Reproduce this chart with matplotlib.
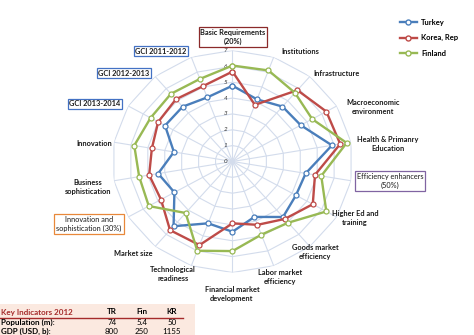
import numpy as np
import matplotlib
matplotlib.use('Agg')
from matplotlib import pyplot as plt
from matplotlib.patches import Rectangle
from matplotlib.lines import Line2D

plt.rcParams['font.family'] = ['Lato', 'DejaVu Sans']

# pillars, clockwise from the top
categories = ['Basic Requirements\n(20%)', 'Institutions', 'Infrastructure',
              'Macroeconomic\nenvironment', 'Health & Primanry\nEducation',
              'Efficiency enhancers\n(50%)', 'Higher Ed and\ntraining',
              'Goods market\nefficiency', 'Labor market\nefficiency',
              'Financial market\ndevelopment', 'Technological\nreadiness',
              'Market size', 'Innovation and\nsophistication (30%)',
              'Business\nsophistication', 'Innovation', 'GCI 2013-2014',
              'GCI 2012-2013', 'GCI 2011-2012']
turkey = [4.78, 4.17, 4.52, 4.58, 5.87, 4.32, 4.26, 4.57, 3.72,
          4.43, 4.15, 5.33, 3.90, 4.39, 3.46, 4.53, 4.51, 4.30]
korea = [5.67, 3.80, 5.87, 6.30, 6.36, 4.87, 5.39, 4.73, 4.25,
         3.90, 5.61, 5.65, 4.80, 4.92, 4.76, 4.99, 5.12, 5.05]
finland = [6.05, 6.11, 5.65, 5.35, 6.74, 5.24, 6.30, 5.04, 4.91,
           5.65, 5.99, 4.24, 5.62, 5.51, 5.80, 5.50, 5.57, 5.54]
series_names = ['Turkey', 'Korea, Rep', 'Finland']
ticks = [0, 1, 2, 3, 4, 5, 6, 7]

# key indicators table
table_cols = ['TR', 'Fin', 'KR']
table_rows = ['Population (m):', 'GDP (USD, b):']
table_vals = [['74', '5.4', '50'], ['800', '250', '1155']]

colors = ['#4A7EBB', '#BE4B48', '#98B954']
grid_color = '#D3DCEC'
W, H = 474, 335

# label centres in pixels and box colours
label_pos = [(233, 37), (300, 52), (337, 73), (373, 107), (388, 144),
             (390, 181), (355, 218), (315, 252), (280, 277), (232, 294),
             (173, 274), (133, 254), (89, 224), (88, 187), (94, 143),
             (95, 104), (124, 73), (161, 51)]
box_colors = {0: '#8B2A2A', 5: '#8064A2', 12: '#E8883A',
              15: '#4472C4', 16: '#4472C4', 17: '#4472C4'}


def fx(px):
    return px / W


def fy(py):
    return 1 - py / H


fig = plt.figure(figsize=(4.74, 3.35), dpi=100)
ax = fig.add_axes([0.2365, 0.1866, 0.508, 0.6627], projection='polar')
ax.set_aspect('auto')
ax.set_theta_zero_location('N')
ax.set_theta_direction(-1)
ax.set_ylim(0, 7)
ax.grid(False)
ax.spines['polar'].set_visible(False)
ax.set_xticks([])
ax.set_yticks([])
ax.patch.set_alpha(0)

n = len(categories)
theta = np.linspace(0, 2 * np.pi, n, endpoint=False)
ring = np.append(theta, theta[0])
for r in ticks[1:]:
    ax.plot(ring, [r] * len(ring), color=grid_color, lw=0.8, zorder=1)
for t in theta:
    ax.plot([t, t], [0, 7], color=grid_color, lw=0.8, zorder=1)
for v in ticks:
    ax.annotate(str(v), xy=(0, v), xytext=(-5, 0), textcoords='offset points',
                ha='center', va='center', fontsize=4.5, style='italic',
                color='#333333')

handles = []
for vals, c, name in zip([turkey, korea, finland], colors, series_names):
    h, = ax.plot(ring, vals + vals[:1], color=c, lw=1.7, marker='o',
                 markersize=3.6, markerfacecolor='white', markeredgecolor=c,
                 markeredgewidth=0.9, zorder=3, label=name)
    handles.append(h)

for i, (lab, (px, py)) in enumerate(zip(categories, label_pos)):
    kw = {}
    if i in box_colors:
        kw['bbox'] = dict(boxstyle='square,pad=0.25', fc='white',
                          ec=box_colors[i], lw=0.9)
    weight = 'normal' if i in (5, 12) else 'bold'
    fig.text(fx(px), fy(py), lab, ha='center', va='center', fontsize=5.3,
             fontweight=weight, linespacing=1.3, color='#1a1a1a', **kw)

leg_handles = [Line2D([], [], color=c, lw=1.7, marker='o', markersize=3.6,
                      markerfacecolor='white', markeredgecolor=c)
               for c in colors]
fig.legend(leg_handles, series_names, loc='upper left',
           bbox_to_anchor=(fx(393), fy(12)), frameon=False,
           prop={'size': 5.5, 'weight': 'bold'}, handlelength=2.2,
           labelspacing=1.1, handletextpad=0.6)

# key indicators box
fig.patches.append(Rectangle((0, 0), fx(195), fy(304),
                             transform=fig.transFigure, fc='#FBE9E0',
                             ec='none', zorder=0))
fig.add_artist(Line2D([0, fx(183)], [fy(317.5), fy(317.5)],
                      transform=fig.transFigure, color='#A52A2A', lw=1.0))
fig.text(fx(1), fy(312), 'Key Indicators 2012', fontsize=5.8,
         fontweight='bold', color='#A52A2A', ha='left', va='center')
col_x = [112, 142, 172]
for cx, col in zip(col_x, table_cols):
    fig.text(fx(cx), fy(312), col, fontsize=5.8, fontweight='bold',
             ha='center', va='center')
for k, (row, vals) in enumerate(zip(table_rows, table_vals)):
    yy = 322.5 + 8.5 * k
    fig.text(fx(1), fy(yy), row, fontsize=5.8, fontweight='bold',
             ha='left', va='center')
    for cx, v in zip(col_x, vals):
        fig.text(fx(cx), fy(yy), v, fontsize=5.8, ha='center', va='center')

fig.savefig('out.png', dpi=100)
